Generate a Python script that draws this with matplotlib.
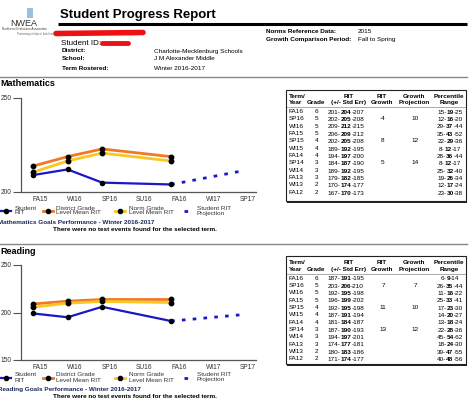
import matplotlib
matplotlib.use("Agg")
import matplotlib.pyplot as plt
from matplotlib.patches import Rectangle

plt.rcParams['font.family'] = ['Liberation Sans', 'DejaVu Sans']

# ---------------- data ----------------
terms = ["FA15", "WI16", "SP16", "SU16", "FA16", "WI17", "SP17"]
term_idx = [0, 1, 2, 4]              # tested terms (FA15, WI16, SP16, FA16)
proj_idx = [4, 6]                    # FA16 -> SP17

math_student = [209, 212, 205, 204]
math_district = [213.8, 218.8, 222.9, 218.8]
math_norm = [210.5, 216.5, 220.7, 216.5]
math_proj = [204, 211]

read_student = [199, 195, 206, 191]
read_district = [209, 211.9, 213.7, 213.7]
read_norm = [205.6, 209.8, 211.6, 210.5]
read_proj = [191, 197.5]

tbl_terms = ["FA16", "SP16", "WI16", "FA15", "SP15", "WI15", "FA14", "SP14", "WI14", "FA13", "WI13", "FA12"]
tbl_grades = ["6", "5", "5", "5", "4", "4", "4", "3", "3", "3", "2", "2"]
math_rit = ["201-204-207", "202-205-208", "209-212-215", "206-209-212", "202-205-208", "189-192-195",
            "194-197-200", "184-187-190", "189-192-195", "179-182-185", "170-174-177", "167-170-173"]
math_pct = ["15-19-25", "12-16-20", "29-37-44", "35-43-52", "22-29-36", "8-12-17",
            "28-36-44", "8-12-17", "25-32-40", "19-26-34", "12-17-24", "23-30-38"]
math_growth = ["", "-4", "", "", "8", "", "", "5", "", "", "", ""]
math_gproj = ["", "10", "", "", "12", "", "", "14", "", "", "", ""]
read_rit = ["187-191-195", "203-206-210", "192-195-198", "196-199-202", "192-195-198", "187-191-194",
            "181-184-187", "187-190-193", "194-197-201", "174-177-181", "180-183-186", "171-174-177"]
read_pct = ["6-9-14", "26-35-44", "11-16-22", "25-33-41", "17-23-30", "14-20-27",
            "13-18-24", "22-28-36", "45-54-62", "18-24-30", "39-47-55", "40-48-56"]
read_growth = ["", "7", "", "", "11", "", "", "13", "", "", "", ""]
read_gproj = ["", "7", "", "", "10", "", "", "12", "", "", "", ""]

legend_labels = ["Student\nRIT", "District Grade\nLevel Mean RIT", "Norm Grade\nLevel Mean RIT", "Student RIT\nProjection"]

BLUE = "#1818c8"
ORANGE = "#f07828"
YELLOW = "#f8c820"
W, H = 474, 405

fig = plt.figure(figsize=(W / 100, H / 100), dpi=100)
fig.patch.set_facecolor("white")

ov = fig.add_axes([0, 0, 1, 1])
ov.set_xlim(0, W)
ov.set_ylim(H, 0)
ov.axis("off")
ov.patch.set_visible(False)
renderer = fig.canvas.get_renderer()

# ---------------- header ----------------
ov.add_patch(Rectangle((27, 8), 6, 10, color="#9cc0dc", lw=0))
ov.text(24, 24, "NWEA", fontsize=6.5, ha="center", va="center", color="#333333")
ov.text(24, 29.5, "Northwest Evaluation Association", fontsize=2.2, ha="center", va="center", color="#444444")
ov.text(36, 34, "Partnering to help all kids learn", fontsize=2.0, ha="center", va="center", color="#666666")
ov.text(60, 15, "Student Progress Report", fontsize=9.5, fontweight="bold", va="center", ha="left")
ov.plot([58, 467], [23.5, 23.5], color="black", lw=2.2, solid_capstyle="butt")
ov.plot([56, 143], [33.5, 32.5], color="#ee1111", lw=4, solid_capstyle="round")
ov.text(61, 43.5, "Student ID:", fontsize=5.8, va="center")
ov.plot([102, 128], [43, 43], color="#ee1111", lw=3.5, solid_capstyle="round")
for y, lab, val in [(51, "District:", "Charlotte-Mecklenburg Schools"),
                    (59, "School:", "J M Alexander Middle"),
                    (69, "Term Rostered:", "Winter 2016-2017")]:
    ov.text(62, y, lab, fontsize=4.6, fontweight="bold", va="center")
    ov.text(154, y, val, fontsize=4.6, va="center")
ov.text(266, 31.5, "Norms Reference Data:", fontsize=4.6, fontweight="bold", va="center")
ov.text(358, 31.5, "2015", fontsize=4.6, va="center")
ov.text(266, 39.5, "Growth Comparison Period:", fontsize=4.6, fontweight="bold", va="center")
ov.text(358, 39.5, "Fall to Spring", fontsize=4.6, va="center")
ov.plot([0, 467], [76.5, 76.5], color="#888888", lw=1.0)
ov.plot([0, 467], [243.5, 243.5], color="#888888", lw=1.0)

ov.text(0, 83.5, "Mathematics", fontsize=6.5, fontweight="bold", va="center")
ov.text(0, 251, "Reading", fontsize=6.5, fontweight="bold", va="center")


def mixed_text(xc, y, s, fs):
    a, b, c = s.split("-")
    pieces = [(a + "-", "normal"), (b, "bold"), ("-" + c, "normal")]
    texts = [ov.text(0, y, p, fontsize=fs, fontweight=w, va="baseline", ha="left", zorder=3)
             for p, w in pieces]
    widths = [t.get_window_extent(renderer).width for t in texts]
    x = xc - sum(widths) / 2
    for t, wd in zip(texts, widths):
        t.set_x(x)
        x += wd


def draw_chart(rect, ylim, yticks, student, district, norm, proj):
    ax = fig.add_axes(rect)
    ax.plot(term_idx, district, color=ORANGE, lw=2.0, marker="o", ms=3.2,
            mfc="black", mec="black", zorder=3)
    ax.plot(term_idx, norm, color=YELLOW, lw=2.0, marker="o", ms=3.2,
            mfc="black", mec="black", zorder=3)
    ax.plot(term_idx, student, color=BLUE, lw=1.6, marker="o", ms=3.0,
            mfc="black", mec="black", zorder=4)
    ax.plot(proj_idx, proj, color=BLUE, lw=2.0, linestyle=(0, (1.3, 2.6)), zorder=2)
    ax.set_xlim(-0.35, 6.46)
    ax.set_ylim(*ylim)
    ax.set_yticks(yticks)
    ax.set_yticklabels([str(v) for v in yticks], fontsize=4.8, color="#333333")
    ax.set_xticks([i + 0.22 for i in range(len(terms))])
    ax.set_xticklabels(terms, fontsize=4.8, color="#333333")
    ax.tick_params(axis="x", length=0, pad=3)
    ax.tick_params(axis="y", length=5.5, width=0.8, color="#555555", pad=1)
    for s in ["top", "right"]:
        ax.spines[s].set_visible(False)
    for s in ["left", "bottom"]:
        ax.spines[s].set_color("#555555")
        ax.spines[s].set_linewidth(0.9)
    ax.patch.set_visible(False)
    return ax


def px_rect(x0, x1, y_top, y_bot):
    return [x0 / W, 1 - y_bot / H, (x1 - x0) / W, (y_bot - y_top) / H]


draw_chart(px_rect(21, 256, 98, 192), (200, 250), [200, 250],
           math_student, math_district, math_norm, math_proj)
draw_chart(px_rect(21, 256, 265, 360), (150, 250), [150, 200, 250],
           read_student, read_district, read_norm, read_proj)


def draw_legend(y):
    ov.plot([1, 11], [y, y], color=BLUE, lw=1.6)
    ov.plot([6], [y], "o", color="black", ms=3)
    ov.plot([43, 53], [y, y], color=ORANGE, lw=2.0)
    ov.plot([48], [y], "o", color="black", ms=3)
    ov.plot([115, 125], [y, y], color=YELLOW, lw=2.0)
    ov.plot([120], [y], "o", color="black", ms=3)
    ov.plot([184, 190], [y, y], color=BLUE, lw=2.0, linestyle=(0, (1.3, 2.6)))
    for x, lab in zip([15, 56, 129, 197], legend_labels):
        ov.text(x, y, lab, fontsize=4.6, va="center", ha="left", color="#333333", linespacing=1.0)


draw_legend(210.5)
draw_legend(377.5)

ov.text(-2, 222, "Mathematics Goals Performance - Winter 2016-2017", fontsize=4.6,
        fontweight="bold", va="center", color="#1a2a5a")
ov.text(135, 229.5, "There were no test events found for the selected term.", fontsize=4.6,
        fontweight="bold", va="center", ha="center")
ov.text(-2, 389, "Reading Goals Performance - Winter 2016-2017", fontsize=4.6,
        fontweight="bold", va="center", color="#1a2a5a")
ov.text(135, 396, "There were no test events found for the selected term.", fontsize=4.6,
        fontweight="bold", va="center", ha="center")


def draw_table(top, bottom, head1, head2, sep, row0, rit, pct, growth, gproj):
    x0, x1 = 286, 466
    ov.add_patch(Rectangle((x0 + 1.5, top + 1.5), x1 - x0, bottom - top, fill=True,
                           facecolor="#222222", edgecolor="none", zorder=1))
    ov.add_patch(Rectangle((x0, top), x1 - x0, bottom - top, facecolor="white",
                           edgecolor="#222222", lw=0.8, zorder=2))
    fs = 4.6
    ov.text(289, head1, "Term/", fontsize=fs, fontweight="bold", va="center", zorder=3)
    ov.text(289, head2, "Year", fontsize=fs, fontweight="bold", va="center", zorder=3)
    ov.text(315.5, head2, "Grade", fontsize=fs, fontweight="bold", va="center", ha="center", zorder=3)
    for xc, a, b in [(349, "RIT", "(+/- Std Err)"), (382, "RIT", "Growth"),
                     (414, "Growth", "Projection"), (449, "Percentile", "Range")]:
        ov.text(xc, head1, a, fontsize=fs, fontweight="bold", va="center", ha="center", zorder=3)
        ov.text(xc, head2, b, fontsize=fs, fontweight="bold", va="center", ha="center", zorder=3)
    ov.plot([x0 + 1, x1 - 1], [sep, sep], color="#888888", lw=0.5, zorder=3)
    dy = 7.35
    for i in range(len(tbl_terms)):
        y = row0 + i * dy
        yb = y + 2.3   # baseline for mixed-weight text
        ov.text(289, y, tbl_terms[i], fontsize=fs, va="center", zorder=3)
        ov.text(316.5, y, tbl_grades[i], fontsize=fs, va="center", ha="center", zorder=3)
        mixed_text(346, yb, rit[i], fs)
        ov.text(383, y, growth[i], fontsize=fs, va="center", ha="center", zorder=3)
        ov.text(415, y, gproj[i], fontsize=fs, va="center", ha="center", zorder=3)
        mixed_text(450, yb, pct[i], fs)


draw_table(90, 201, 96.5, 102.5, 106.5, 111.5, math_rit, math_pct, math_growth, math_gproj)
draw_table(256, 364, 262.5, 269.5, 273.5, 278, read_rit, read_pct, read_growth, read_gproj)

fig.savefig("out.png", dpi=100, facecolor="white")
